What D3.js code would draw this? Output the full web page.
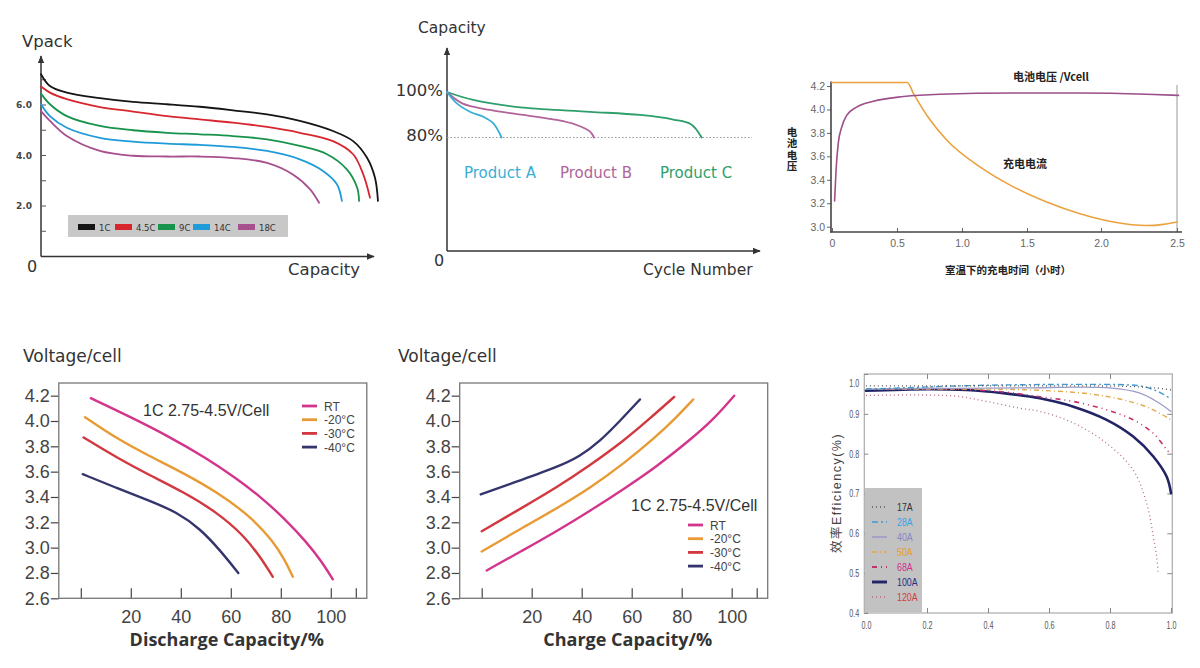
<!DOCTYPE html>
<html lang="en">
<head>
<meta charset="UTF-8">
<script src="https://d3js.org/d3.v7.min.js"></script>
<style>
    body {margin: 0; background-color: #ffffff;}
    svg {display: block;}
</style>
</head>
<body>
<svg class="board" width="1200" height="668"></svg>
<script type="text/javascript">
// pack discharge at several C rates (capacity in % of the axis, Vpack)
const rateNames = ['1C', '4.5C', '9C', '14C', '18C'];
const rateColors = ['#151515', '#d8262f', '#17934b', '#1f9bd9', '#a8508e'];
const cap1C = [0, 2.7, 7.8, 17.8, 27.8, 38.1, 48, 58, 68.3, 78.2, 88.2, 94.3, 98.5, 100.9, 101.8];
const volt1C = [7.22, 6.75, 6.49, 6.27, 6.12, 6.03, 5.93, 5.79, 5.63, 5.37, 4.97, 4.57, 3.91, 3.12, 2.2];
const cap4C5 = [0, 2.7, 7.8, 17.8, 27.8, 38.1, 48, 58, 68.3, 78.2, 88.2, 94.3, 97.3, 99.4];
const volt4C5 = [6.73, 6.49, 6.23, 5.92, 5.74, 5.56, 5.43, 5.30, 5.13, 4.90, 4.57, 4.05, 3.27, 2.33];
const cap9C = [0, 2.7, 7.8, 17.8, 27.8, 38.1, 48, 58, 68.3, 78.2, 86.4, 92.4, 95.5, 96.1];
const volt9C = [6.45, 6.03, 5.56, 5.17, 5.0, 4.90, 4.84, 4.77, 4.64, 4.38, 4.05, 3.45, 2.73, 2.2];
const cap14C = [0, 2.7, 7.8, 17.8, 27.8, 38.1, 48, 58, 68.3, 78.2, 85.2, 89.4, 90.9];
const volt14C = [6.03, 5.56, 5.10, 4.70, 4.55, 4.47, 4.42, 4.34, 4.18, 3.85, 3.39, 2.86, 2.2];
const cap18C = [0, 2.7, 7.8, 17.8, 27.8, 38.1, 48, 58, 68.3, 76.1, 81.3, 84];
const volt18C = [5.76, 5.37, 4.77, 4.18, 3.99, 3.96, 3.96, 3.90, 3.71, 3.25, 2.66, 2.13];
const packTicks = [2, 4, 6];

// cycle life
const productNames = ['Product A', 'Product B', 'Product C'];
const productColors = ['#3aaed6', '#b0649a', '#2e9e6a'];
const cyclesA = [0, 32, 75, 119, 152, 179];
const capLeftA = [100, 95.0, 91.3, 89.1, 86.2, 80];
const cyclesB = [0, 50, 141, 250, 360, 425, 469, 482];
const capLeftB = [100, 95.0, 92.1, 89.9, 87.7, 85.5, 82.6, 80];
const cyclesC = [0, 86, 250, 469, 633, 742, 800, 835];
const capLeftC = [100, 96.5, 93.1, 91.3, 89.9, 87.9, 85.8, 80];

// charge curve at room temperature
const hourTicks = [0, 0.5, 1.0, 1.5, 2.0, 2.5];
const cellTicks = [3.0, 3.2, 3.4, 3.6, 3.8, 4.0, 4.2];
const cellHours = [0.02, 0.031, 0.048, 0.075, 0.113, 0.19, 0.318, 0.55, 0.83, 1.395, 1.858, 2.3, 2.51];
const cellVolt = [3.22, 3.48, 3.71, 3.85, 3.95, 4.02, 4.07, 4.11, 4.13, 4.14, 4.14, 4.13, 4.12];
const currHours = [0, 0.58, 0.625, 0.755, 0.882, 1.138, 1.395, 1.633, 1.858, 2.081, 2.3, 2.41, 2.5];
const currLevel = [4.23, 4.23, 4.14, 3.91, 3.74, 3.51, 3.34, 3.21, 3.11, 3.04, 3.01, 3.02, 3.04];

// temperature panels
const tempNames = ['RT', '-20°C', '-30°C', '-40°C'];
const tempColors = ['#d4358c', '#e89a35', '#d2383f', '#35356e'];
const voltTicks = [2.6, 2.8, 3.0, 3.2, 3.4, 3.6, 3.8, 4.0, 4.2];
const pctTicks = [0, 20, 40, 60, 80, 100, 110];
const disRT_x = [4, 20, 35, 50, 62, 72, 82, 90, 96, 100.8];
const disRT_v = [4.18, 4.03, 3.88, 3.71, 3.55, 3.40, 3.22, 3.05, 2.90, 2.75];
const dis20_x = [1.7, 14.4, 27.7, 41, 54.4, 67.7, 77, 81.7, 84.8];
const dis20_v = [4.03, 3.86, 3.72, 3.59, 3.44, 3.25, 3.05, 2.90, 2.77];
const dis30_x = [1.1, 14.4, 27.7, 41, 54.4, 65, 71.7, 76.8];
const dis30_v = [3.87, 3.71, 3.57, 3.44, 3.28, 3.10, 2.93, 2.77];
const dis40_x = [0.8, 14.4, 27.7, 38.4, 47.7, 55.7, 63];
const dis40_v = [3.58, 3.47, 3.37, 3.28, 3.15, 2.98, 2.80];
const chgRT_x = [2, 16.6, 30, 43.3, 56.6, 70, 83.3, 92.6, 101];
const chgRT_v = [2.82, 2.98, 3.13, 3.29, 3.46, 3.64, 3.85, 4.01, 4.20];
const chg20_x = [0, 16.6, 30, 43.3, 56.6, 70, 78, 84.6];
const chg20_v = [2.97, 3.16, 3.31, 3.47, 3.66, 3.88, 4.03, 4.17];
const chg30_x = [0, 16.6, 30, 43.3, 56.6, 67.3, 77];
const chg30_v = [3.13, 3.32, 3.475, 3.65, 3.84, 4.02, 4.19];
const chg40_x = [-0.4, 16.6, 30, 39.3, 47.3, 55.3, 63.3];
const chg40_v = [3.42, 3.54, 3.635, 3.72, 3.84, 4.00, 4.17];

// efficiency vs load
const loadNames = ['17A', '28A', '40A', '50A', '68A', '100A', '120A'];
const loadColors = ['#555555', '#3d9bd5', '#9b9bc9', '#e4a84a', '#c4306e', '#232366', '#b86a84'];
const loadTextColors = ['#333333', '#3aa2e2', '#8686c0', '#e89d2c', '#d0308e', '#2c2c80', '#d04040'];
const loadDash = ['1,3', '6,3,2,3', null, '5,3,1,3', '5,4,1,4,1,4', null, '1,3'];
const loadWidth = [1.3, 1.4, 1.3, 1.4, 1.6, 2.6, 1.3];
const eff17_x = [0, 0.5, 0.85, 0.95, 1.0];
const eff17_y = [0.970, 0.970, 0.969, 0.965, 0.960];
const eff28_x = [0, 0.3, 0.5, 0.85, 0.9, 0.96, 1.0];
const eff28_y = [0.962, 0.970, 0.973, 0.973, 0.970, 0.955, 0.937];
const eff40_x = [0, 0.5, 0.8, 0.898, 0.953, 1.0];
const eff40_y = [0.962, 0.965, 0.965, 0.952, 0.931, 0.906];
const eff50_x = [0, 0.4, 0.57, 0.734, 0.844, 0.931, 1.0];
const eff50_y = [0.962, 0.962, 0.959, 0.950, 0.935, 0.914, 0.885];
const eff68_x = [0, 0.3, 0.45, 0.57, 0.68, 0.789, 0.876, 0.942, 0.986, 1.0];
const eff68_y = [0.962, 0.962, 0.955, 0.943, 0.931, 0.910, 0.885, 0.851, 0.81, 0.797];
const eff100_x = [0, 0.2, 0.33, 0.45, 0.57, 0.68, 0.789, 0.876, 0.942, 0.986, 1.0];
const eff100_y = [0.958, 0.962, 0.96, 0.952, 0.939, 0.918, 0.885, 0.843, 0.793, 0.742, 0.701];
const eff120_x = [0, 0.286, 0.396, 0.505, 0.57, 0.68, 0.789, 0.876, 0.92, 0.942, 0.953, 0.958];
const eff120_y = [0.946, 0.945, 0.931, 0.914, 0.906, 0.877, 0.826, 0.759, 0.676, 0.592, 0.541, 0.5];
const effXTicks = [0, 0.2, 0.4, 0.6, 0.8, 1.0];
const effYTicks = [0.4, 0.5, 0.6, 0.7, 0.8, 0.9, 1.0];

const SANS = '"DejaVu Sans", Verdana, sans-serif';
const ARIAL = '"Liberation Sans", Arial, sans-serif';
const OPEN = '"Open Sans", sans-serif';
const CJK = '"Noto Sans CJK SC", sans-serif';
const smooth = d3.curveCatmullRom.alpha(0.5);

const svg = d3.select('.board');
svg.append('defs').append('marker')
    .attr('id', 'arrow').attr('viewBox', '0 0 10 10')
    .attr('refX', 9).attr('refY', 5)
    .attr('markerWidth', 5.5).attr('markerHeight', 5.5)
    .attr('orient', 'auto')
    .append('path').attr('d', 'M0,1 L10,5 L0,9 z').attr('fill', '#333');

function addText(g, x, y, str, size, opts = {}) {
    const t = g.append('text')
        .attr('x', x).attr('y', y)
        .attr('font-size', size)
        .attr('font-family', opts.family || SANS)
        .attr('fill', opts.color || '#333')
        .attr('text-anchor', opts.anchor || 'start')
        .text(str);
    if (opts.weight) t.attr('font-weight', opts.weight);
    return t;
}

function series(g, x, y, xs, ys, color, width, dash, curve) {
    const line = d3.line().x(d => x(d[0])).y(d => y(d[1])).curve(curve || smooth);
    return g.append('path')
        .attr('d', line(d3.zip(xs, ys)))
        .attr('fill', 'none')
        .attr('stroke', color)
        .attr('stroke-width', width)
        .attr('stroke-dasharray', dash || null)
        .attr('stroke-linecap', dash ? 'butt' : 'round');
}

function arrowAxis(g, x1, y1, x2, y2) {
    g.append('line')
        .attr('x1', x1).attr('y1', y1).attr('x2', x2).attr('y2', y2)
        .attr('stroke', '#333').attr('stroke-width', 1.5)
        .attr('marker-end', 'url(#arrow)');
}

// ---------- top left: Vpack vs capacity ----------
function drawRates() {
    const g = svg.append('g');
    const x = d3.scaleLinear().domain([0, 100]).range([41, 372]);
    const y = d3.scaleLinear().domain([0, 8]).range([256.5, 54.5]);

    arrowAxis(g, x(0), y(0), x(0), 56);
    arrowAxis(g, x(0), y(0), 374, y(0));

    g.selectAll('.tick').data(d3.range(1, 8)).enter().append('line')
        .attr('x1', x(0)).attr('x2', x(0) + 5)
        .attr('y1', d => y(d)).attr('y2', d => y(d))
        .attr('stroke', '#555').attr('stroke-width', 1);
    g.selectAll('.lbl').data(packTicks).enter().append('text')
        .attr('x', 32).attr('y', d => y(d) + 3)
        .attr('text-anchor', 'end')
        .attr('font-size', 9).attr('font-weight', 'bold')
        .attr('font-family', SANS).attr('fill', '#444')
        .text(d => d3.format('.1f')(d));

    const caps = [cap1C, cap4C5, cap9C, cap14C, cap18C];
    const volts = [volt1C, volt4C5, volt9C, volt14C, volt18C];
    for (let i = caps.length - 1; i >= 0; i--) {
        series(g, x, y, caps[i], volts[i], rateColors[i], 1.8);
    }

    addText(g, 22, 47, 'Vpack', 16.5);
    addText(g, 32, 272, '0', 16, {anchor: 'middle'});
    addText(g, 288, 275, 'Capacity', 16.5);

    g.append('rect').attr('x', 68).attr('y', 215).attr('width', 220).attr('height', 22)
        .attr('fill', '#c8c8c8');
    const legX = [78, 115, 158, 193, 238];
    rateNames.forEach((name, i) => {
        g.append('rect').attr('x', legX[i]).attr('y', 224).attr('width', 17).attr('height', 6)
            .attr('fill', rateColors[i]);
        addText(g, legX[i] + 21, 230.5, name, 8.5, {color: '#333'});
    });
}

// ---------- top middle: capacity vs cycle number ----------
function drawCycles() {
    const g = svg.append('g');
    const x = d3.scaleLinear().domain([0, 1000]).range([447, 752]);
    const y = d3.scaleLinear().domain([80, 100]).range([137.5, 92]);

    arrowAxis(g, x(0), 251, x(0), 48);
    arrowAxis(g, x(0), 251, 760, 251);

    g.append('line')
        .attr('x1', x(0)).attr('x2', x(1000)).attr('y1', y(80)).attr('y2', y(80))
        .attr('stroke', '#999').attr('stroke-width', 1).attr('stroke-dasharray', '1.5,2');

    const cyc = [cyclesA, cyclesB, cyclesC];
    const cap = [capLeftA, capLeftB, capLeftC];
    for (let i = 2; i >= 0; i--) {
        series(g, x, y, cyc[i], cap[i], productColors[i], 1.8);
    }
    const labelX = [464, 560, 660];
    productNames.forEach((name, i) => {
        addText(g, labelX[i], 178, name, 15, {color: productColors[i]});
    });

    addText(g, 418, 33, 'Capacity', 15.5);
    addText(g, 443, y(100) + 3.5, '100%', 16.5, {anchor: 'end'});
    addText(g, 443, y(80) + 3, '80%', 16.5, {anchor: 'end'});
    addText(g, 439, 266, '0', 16, {anchor: 'middle'});
    addText(g, 643, 275, 'Cycle Number', 15.5);
}

// ---------- top right: charge voltage / current ----------
function drawCharge() {
    const g = svg.append('g');
    const x = d3.scaleLinear().domain(hourTicks).range([832, 897, 962, 1027, 1101, 1177]);
    const y = d3.scaleLinear().domain([3.0, 4.2]).range([226.7, 86]);

    g.append('line').attr('x1', 1177).attr('x2', 1177).attr('y1', 85).attr('y2', 232)
        .attr('stroke', '#999').attr('stroke-width', 1);

    const ya = g.append('g').attr('transform', 'translate(831,0)')
        .call(d3.axisLeft(y).tickValues(cellTicks).tickSize(4).tickPadding(2)
            .tickFormat(d3.format('.1f')));
    ya.select('.domain').remove();
    ya.attr('font-size', 10.5).attr('font-family', ARIAL).attr('color', '#666');

    const xa = g.append('g').attr('transform', 'translate(0,232)')
        .call(d3.axisBottom(x).tickValues(hourTicks).tickSize(-4).tickPadding(8)
            .tickFormat(d => d === 0 ? '0' : d3.format('.1f')(d)));
    xa.select('.domain').remove();
    xa.attr('font-size', 10.5).attr('font-family', ARIAL).attr('color', '#666');

    g.append('line').attr('x1', 831).attr('x2', 831).attr('y1', 81.5).attr('y2', 232.5)
        .attr('stroke', '#444').attr('stroke-width', 1.6);
    g.append('line').attr('x1', 830).attr('x2', 1182).attr('y1', 232).attr('y2', 232)
        .attr('stroke', '#444').attr('stroke-width', 1.6);

    series(g, x, y, currHours, currLevel, '#eba13e', 1.6, null, d3.curveMonotoneX);
    series(g, x, y, cellHours, cellVolt, '#9c4f8a', 1.6, null, d3.curveMonotoneX);

    addText(g, 1051, 81, '电池电压 /Vcell', 11, {family: CJK, weight: 'bold', anchor: 'middle', color: '#222'});
    addText(g, 1025, 168, '充电电流', 11, {family: CJK, weight: 'bold', anchor: 'middle', color: '#222'});
    addText(g, 792, 149.5, '电池电压', 10.5, {family: CJK, weight: 'bold', anchor: 'middle', color: '#222'})
        .style('writing-mode', 'vertical-rl')
        .attr('letter-spacing', 1);
    addText(g, 1008, 274, '室温下的充电时间（小时）', 10.5, {family: CJK, weight: 'bold', anchor: 'middle', color: '#222'});
}

// ---------- bottom left / middle: voltage vs capacity at temperatures ----------
function drawTempPanel(cfg) {
    const g = svg.append('g');
    const x = d3.scaleLinear().domain([0, 100]).range([cfg.x0, cfg.x0 + 250]);
    const y = d3.scaleLinear().domain([2.6, 4.3]).range([598.3, 383]);

    const ya = g.append('g').attr('transform', `translate(${x(-8.8)},0)`)
        .call(d3.axisLeft(y).tickValues(voltTicks).tickSize(8).tickPadding(1)
            .tickFormat(d3.format('.1f')));
    ya.select('.domain').remove();
    ya.attr('font-size', 18).attr('font-family', ARIAL).attr('color', '#444');
    ya.selectAll('line').attr('stroke-width', 1.2);

    const xa = g.append('g').attr('transform', `translate(0,${y(2.6)})`)
        .call(d3.axisBottom(x).tickValues(pctTicks).tickSize(-10).tickPadding(12)
            .tickFormat(d => (d === 0 || d === 110) ? '' : d));
    xa.select('.domain').remove();
    xa.attr('font-size', 18).attr('font-family', ARIAL).attr('color', '#444');
    xa.selectAll('line').attr('stroke-width', 1.2);

    g.append('rect')
        .attr('x', x(-8.8)).attr('y', y(4.3))
        .attr('width', x(114.4) - x(-8.8)).attr('height', y(2.6) - y(4.3))
        .attr('fill', 'none').attr('stroke', '#777').attr('stroke-width', 1.3);

    cfg.xs.forEach((xs, i) => series(g, x, y, xs, cfg.vs[i], tempColors[i], 2.4, null, d3.curveBasis));

    addText(g, cfg.noteX, cfg.noteY, '1C 2.75-4.5V/Cell', 16, {family: ARIAL, color: '#333'});
    tempNames.forEach((name, i) => {
        const ly = cfg.legY + i * 13.7;
        g.append('line').attr('x1', cfg.legX).attr('x2', cfg.legX + 15)
            .attr('y1', ly).attr('y2', ly)
            .attr('stroke', tempColors[i]).attr('stroke-width', 2.8);
        addText(g, cfg.legX + 22, ly + 4.5, name, 12, {family: ARIAL, color: '#444'});
    });

    addText(g, cfg.titleX, 362, 'Voltage/cell', 17);
    addText(g, cfg.x0 + 146, 646, cfg.xLabel, 18, {family: OPEN, weight: 'bold', anchor: 'middle', color: '#333'});
}

// ---------- bottom right: efficiency ----------
function drawEfficiency() {
    const g = svg.append('g');
    const x = d3.scaleLinear().domain([0, 1]).range([866, 1171]);
    const y = d3.scaleLinear().domain([0.4, 1.0]).range([613, 374]);
    const left = 864.3, right = 1172.3;

    g.append('rect').attr('x', left).attr('y', y(1.0)).attr('width', right - left).attr('height', y(0.4) - y(1.0))
        .attr('fill', 'none').attr('stroke', '#aaa').attr('stroke-width', 1.2);

    const inner = effXTicks.slice(1, -1);
    const innerY = effYTicks.slice(1, -1);
    const bottom = g.append('g').attr('transform', `translate(0,${y(0.4)})`)
        .call(d3.axisBottom(x).tickValues(effXTicks).tickSize(-5).tickPadding(9).tickFormat(d3.format('.1f')));
    const top = g.append('g').attr('transform', `translate(0,${y(1.0)})`)
        .call(d3.axisTop(x).tickValues(inner).tickSize(-5).tickFormat(''));
    const lft = g.append('g').attr('transform', `translate(${left},0)`)
        .call(d3.axisLeft(y).tickValues(effYTicks).tickSize(-4).tickPadding(5).tickFormat(d3.format('.1f')));
    const rgt = g.append('g').attr('transform', `translate(${right},0)`)
        .call(d3.axisRight(y).tickValues(innerY).tickSize(-5).tickFormat(''));
    [bottom, top, lft, rgt].forEach(a => {
        a.select('.domain').remove();
        a.attr('font-size', 10.5).attr('font-family', ARIAL).attr('color', '#888');
        a.selectAll('text').attr('fill', '#555').attr('textLength', 10).attr('lengthAdjust', 'spacingAndGlyphs');
    });
    lft.selectAll('text').filter(d => d === 1.0).attr('y', 9);

    const xs = [eff17_x, eff28_x, eff40_x, eff50_x, eff68_x, eff100_x, eff120_x];
    const ys = [eff17_y, eff28_y, eff40_y, eff50_y, eff68_y, eff100_y, eff120_y];
    const order = [6, 5, 4, 3, 2, 1, 0];
    order.forEach(i => series(g, x, y, xs[i], ys[i], loadColors[i], loadWidth[i], loadDash[i]));

    g.append('rect').attr('x', 865).attr('y', 488).attr('width', 57).attr('height', 124.5)
        .attr('fill', '#c2c2c2');
    loadNames.forEach((name, i) => {
        const ly = 507 + i * 15;
        g.append('line').attr('x1', 872).attr('x2', 887).attr('y1', ly).attr('y2', ly)
            .attr('stroke', loadColors[i]).attr('stroke-width', loadWidth[i] + 0.3)
            .attr('stroke-dasharray', loadDash[i]);
        g.append('text')
            .attr('transform', `translate(897,${ly + 4}) scale(0.8,1)`)
            .attr('font-size', 11).attr('font-family', ARIAL)
            .attr('fill', loadTextColors[i]).text(name);
    });

    g.append('text')
        .attr('transform', 'translate(841,493) rotate(-90)')
        .attr('text-anchor', 'middle')
        .attr('font-size', 12.5).attr('letter-spacing', 1.5)
        .attr('font-family', '"Liberation Sans", "Noto Sans CJK SC", sans-serif')
        .attr('fill', '#444')
        .text('效率Efficiency(%)');
}

drawRates();
drawCycles();
drawCharge();
drawTempPanel({
    x0: 80.8, titleX: 23, noteX: 143, noteY: 416, legX: 302, legY: 406,
    xLabel: 'Discharge Capacity/%',
    xs: [disRT_x, dis20_x, dis30_x, dis40_x],
    vs: [disRT_v, dis20_v, dis30_v, dis40_v]
});
drawTempPanel({
    x0: 481.7, titleX: 398, noteX: 631, noteY: 511, legX: 688, legY: 525,
    xLabel: 'Charge Capacity/%',
    xs: [chgRT_x, chg20_x, chg30_x, chg40_x],
    vs: [chgRT_v, chg20_v, chg30_v, chg40_v]
});
drawEfficiency();
</script>
</body>
</html>
